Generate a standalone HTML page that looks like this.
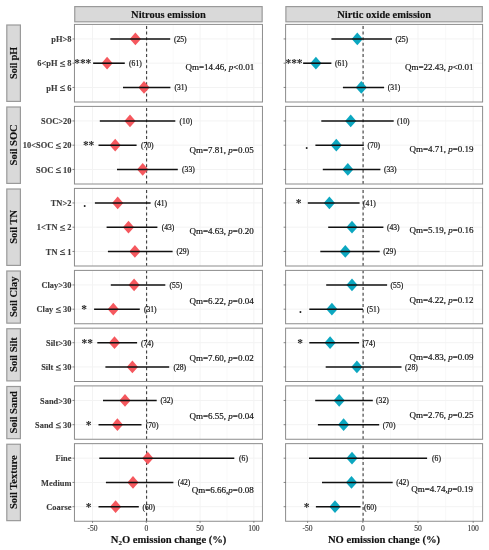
<!DOCTYPE html>
<html><head><meta charset="utf-8"><style>
html,body{margin:0;padding:0;background:#fff;}
svg{display:block;will-change:transform;}
text{font-family:"Liberation Serif",serif;}
.n{font-size:7.6px;fill:#111;stroke:#111;stroke-width:0.18px;}
.st{font-size:11.5px;font-weight:bold;fill:#262626;}
.q{font-size:9px;fill:#111;stroke:#111;stroke-width:0.18px;}
.yl{font-size:8.4px;font-weight:bold;fill:#3a3a3a;stroke:#3a3a3a;stroke-width:0.12px;}
.xl{font-size:7.6px;fill:#333;stroke:#333;stroke-width:0.12px;}
.sh{font-size:10.5px;font-weight:bold;fill:#111;stroke:#111;stroke-width:0.12px;}
.at{font-size:10.6px;font-weight:bold;fill:#111;stroke:#111;stroke-width:0.15px;}
</style></head><body>
<svg width="489" height="550" viewBox="0 0 489 550">
<rect x="0" y="0" width="489" height="550" fill="#fff"/>
<rect x="74.75" y="6.6" width="187.40" height="15.2" fill="#D9D9D9" stroke="#9A9A9A" stroke-width="1.2"/>
<text x="168.45" y="17.9" class="sh" text-anchor="middle">Nitrous emission</text>
<rect x="285.90" y="6.6" width="196.40" height="15.2" fill="#D9D9D9" stroke="#9A9A9A" stroke-width="1.2"/>
<text x="384.10" y="17.9" class="sh" text-anchor="middle">Nirtic oxide emission</text>
<rect x="6.8" y="25.00" width="13.6" height="76.40" fill="#D9D9D9" stroke="#9A9A9A" stroke-width="1.2"/>
<text transform="translate(16.9 62.90) rotate(-90)" class="sh" text-anchor="middle" style="font-size:10px">Soil pH</text>
<rect x="6.8" y="107.00" width="13.6" height="76.40" fill="#D9D9D9" stroke="#9A9A9A" stroke-width="1.2"/>
<text transform="translate(16.9 144.90) rotate(-90)" class="sh" text-anchor="middle">Soil SOC</text>
<rect x="6.8" y="189.00" width="13.6" height="76.40" fill="#D9D9D9" stroke="#9A9A9A" stroke-width="1.2"/>
<text transform="translate(16.9 226.90) rotate(-90)" class="sh" text-anchor="middle">Soil TN</text>
<rect x="6.8" y="271.00" width="13.6" height="52.15" fill="#D9D9D9" stroke="#9A9A9A" stroke-width="1.2"/>
<text transform="translate(16.9 296.78) rotate(-90)" class="sh" text-anchor="middle">Soil Clay</text>
<rect x="6.8" y="328.75" width="13.6" height="52.15" fill="#D9D9D9" stroke="#9A9A9A" stroke-width="1.2"/>
<text transform="translate(16.9 354.53) rotate(-90)" class="sh" text-anchor="middle">Soil Silt</text>
<rect x="6.8" y="386.50" width="13.6" height="52.15" fill="#D9D9D9" stroke="#9A9A9A" stroke-width="1.2"/>
<text transform="translate(16.9 412.28) rotate(-90)" class="sh" text-anchor="middle">Soil Sand</text>
<rect x="6.8" y="444.25" width="13.6" height="76.40" fill="#D9D9D9" stroke="#9A9A9A" stroke-width="1.2"/>
<text transform="translate(16.9 482.15) rotate(-90)" class="sh" text-anchor="middle">Soil Texture</text>
<rect x="74.95" y="24.90" width="187.00" height="76.60" fill="#fff"/>
<line x1="119.41" y1="24.40" x2="119.41" y2="102.00" stroke="#F3F3F3" stroke-width="0.5"/>
<line x1="173.19" y1="24.40" x2="173.19" y2="102.00" stroke="#F3F3F3" stroke-width="0.5"/>
<line x1="226.96" y1="24.40" x2="226.96" y2="102.00" stroke="#F3F3F3" stroke-width="0.5"/>
<line x1="92.53" y1="24.40" x2="92.53" y2="102.00" stroke="#F3F3F3" stroke-width="1"/>
<line x1="146.30" y1="24.40" x2="146.30" y2="102.00" stroke="#F3F3F3" stroke-width="1"/>
<line x1="200.07" y1="24.40" x2="200.07" y2="102.00" stroke="#F3F3F3" stroke-width="1"/>
<line x1="253.85" y1="24.40" x2="253.85" y2="102.00" stroke="#F3F3F3" stroke-width="1"/>
<line x1="74.45" y1="38.95" x2="262.45" y2="38.95" stroke="#F3F3F3" stroke-width="1"/>
<line x1="74.45" y1="63.20" x2="262.45" y2="63.20" stroke="#F3F3F3" stroke-width="1"/>
<line x1="74.45" y1="87.45" x2="262.45" y2="87.45" stroke="#F3F3F3" stroke-width="1"/>
<line x1="146.60" y1="102.00" x2="146.60" y2="24.40" stroke="#3c3c3c" stroke-width="1.1" stroke-dasharray="3,2.62"/>
<polygon points="129.80,38.95 135.40,32.55 141.00,38.95 135.40,45.35" fill="#F5585E"/>
<line x1="110.30" y1="38.95" x2="170.20" y2="38.95" stroke="#111" stroke-width="1.55"/>
<text x="174.00" y="41.85" class="n">(25)</text>
<polygon points="101.50,63.20 107.10,56.80 112.70,63.20 107.10,69.60" fill="#F5585E"/>
<line x1="93.10" y1="63.20" x2="124.80" y2="63.20" stroke="#111" stroke-width="1.55"/>
<text x="129.10" y="66.10" class="n">(61)</text>
<text x="77.20" y="67.30" class="st" text-anchor="middle">*</text>
<text x="82.80" y="67.30" class="st" text-anchor="middle">*</text>
<text x="88.30" y="67.30" class="st" text-anchor="middle">*</text>
<polygon points="138.40,87.45 144.00,81.05 149.60,87.45 144.00,93.85" fill="#F5585E"/>
<line x1="123.00" y1="87.45" x2="170.40" y2="87.45" stroke="#111" stroke-width="1.55"/>
<text x="174.50" y="90.35" class="n">(31)</text>
<rect x="74.45" y="24.40" width="188.00" height="77.60" fill="none" stroke="#8C8C8C" stroke-width="1"/>
<line x1="72.45" y1="38.95" x2="74.45" y2="38.95" stroke="#555" stroke-width="0.7"/>
<line x1="72.45" y1="63.20" x2="74.45" y2="63.20" stroke="#555" stroke-width="0.7"/>
<line x1="72.45" y1="87.45" x2="74.45" y2="87.45" stroke="#555" stroke-width="0.7"/>
<text x="254.20" y="69.80" class="q" text-anchor="end">Qm=14.46, <tspan font-style="italic">p</tspan>&lt;0.01</text>
<text transform="translate(71.40 42.15) scale(1 0.9)" class="yl" text-anchor="end">pH&gt;8</text>
<text transform="translate(57.50 66.40) scale(1 0.9)" class="yl" text-anchor="end">6&lt;pH</text>
<text transform="translate(67.20 66.40) scale(1 0.9)" class="yl">8</text>
<path d="M64.90 61.30 L60.30 63.20 L64.90 65.00 M60.00 66.30 L65.20 66.30" fill="none" stroke="#3a3a3a" stroke-width="0.95"/>
<text transform="translate(57.50 90.65) scale(1 0.9)" class="yl" text-anchor="end">pH</text>
<text transform="translate(67.20 90.65) scale(1 0.9)" class="yl">6</text>
<path d="M64.90 85.55 L60.30 87.45 L64.90 89.25 M60.00 90.55 L65.20 90.55" fill="none" stroke="#3a3a3a" stroke-width="0.95"/>
<rect x="74.95" y="106.90" width="187.00" height="76.60" fill="#fff"/>
<line x1="119.41" y1="106.40" x2="119.41" y2="184.00" stroke="#F3F3F3" stroke-width="0.5"/>
<line x1="173.19" y1="106.40" x2="173.19" y2="184.00" stroke="#F3F3F3" stroke-width="0.5"/>
<line x1="226.96" y1="106.40" x2="226.96" y2="184.00" stroke="#F3F3F3" stroke-width="0.5"/>
<line x1="92.53" y1="106.40" x2="92.53" y2="184.00" stroke="#F3F3F3" stroke-width="1"/>
<line x1="146.30" y1="106.40" x2="146.30" y2="184.00" stroke="#F3F3F3" stroke-width="1"/>
<line x1="200.07" y1="106.40" x2="200.07" y2="184.00" stroke="#F3F3F3" stroke-width="1"/>
<line x1="253.85" y1="106.40" x2="253.85" y2="184.00" stroke="#F3F3F3" stroke-width="1"/>
<line x1="74.45" y1="120.95" x2="262.45" y2="120.95" stroke="#F3F3F3" stroke-width="1"/>
<line x1="74.45" y1="145.20" x2="262.45" y2="145.20" stroke="#F3F3F3" stroke-width="1"/>
<line x1="74.45" y1="169.45" x2="262.45" y2="169.45" stroke="#F3F3F3" stroke-width="1"/>
<line x1="146.60" y1="184.00" x2="146.60" y2="106.40" stroke="#3c3c3c" stroke-width="1.1" stroke-dasharray="3,2.62"/>
<polygon points="124.40,120.95 130.00,114.55 135.60,120.95 130.00,127.35" fill="#F5585E"/>
<line x1="99.80" y1="120.95" x2="175.30" y2="120.95" stroke="#111" stroke-width="1.55"/>
<text x="179.60" y="123.85" class="n">(10)</text>
<polygon points="109.60,145.20 115.20,138.80 120.80,145.20 115.20,151.60" fill="#F5585E"/>
<line x1="98.50" y1="145.20" x2="136.60" y2="145.20" stroke="#111" stroke-width="1.55"/>
<text x="140.90" y="148.10" class="n">(70)</text>
<text x="85.90" y="149.30" class="st" text-anchor="middle">*</text>
<text x="91.40" y="149.30" class="st" text-anchor="middle">*</text>
<polygon points="137.10,169.45 142.70,163.05 148.30,169.45 142.70,175.85" fill="#F5585E"/>
<line x1="117.00" y1="169.45" x2="177.80" y2="169.45" stroke="#111" stroke-width="1.55"/>
<text x="182.10" y="172.35" class="n">(33)</text>
<rect x="74.45" y="106.40" width="188.00" height="77.60" fill="none" stroke="#8C8C8C" stroke-width="1"/>
<line x1="72.45" y1="120.95" x2="74.45" y2="120.95" stroke="#555" stroke-width="0.7"/>
<line x1="72.45" y1="145.20" x2="74.45" y2="145.20" stroke="#555" stroke-width="0.7"/>
<line x1="72.45" y1="169.45" x2="74.45" y2="169.45" stroke="#555" stroke-width="0.7"/>
<text x="253.70" y="152.60" class="q" text-anchor="end">Qm=7.81, <tspan font-style="italic">p</tspan>=0.05</text>
<text transform="translate(71.40 124.15) scale(1 0.9)" class="yl" text-anchor="end">SOC&gt;20</text>
<text transform="translate(53.30 148.40) scale(1 0.9)" class="yl" text-anchor="end">10&lt;SOC</text>
<text transform="translate(63.00 148.40) scale(1 0.9)" class="yl">20</text>
<path d="M60.70 143.30 L56.10 145.20 L60.70 147.00 M55.80 148.30 L61.00 148.30" fill="none" stroke="#3a3a3a" stroke-width="0.95"/>
<text transform="translate(53.30 172.65) scale(1 0.9)" class="yl" text-anchor="end">SOC</text>
<text transform="translate(63.00 172.65) scale(1 0.9)" class="yl">10</text>
<path d="M60.70 167.55 L56.10 169.45 L60.70 171.25 M55.80 172.55 L61.00 172.55" fill="none" stroke="#3a3a3a" stroke-width="0.95"/>
<rect x="74.95" y="188.90" width="187.00" height="76.60" fill="#fff"/>
<line x1="119.41" y1="188.40" x2="119.41" y2="266.00" stroke="#F3F3F3" stroke-width="0.5"/>
<line x1="173.19" y1="188.40" x2="173.19" y2="266.00" stroke="#F3F3F3" stroke-width="0.5"/>
<line x1="226.96" y1="188.40" x2="226.96" y2="266.00" stroke="#F3F3F3" stroke-width="0.5"/>
<line x1="92.53" y1="188.40" x2="92.53" y2="266.00" stroke="#F3F3F3" stroke-width="1"/>
<line x1="146.30" y1="188.40" x2="146.30" y2="266.00" stroke="#F3F3F3" stroke-width="1"/>
<line x1="200.07" y1="188.40" x2="200.07" y2="266.00" stroke="#F3F3F3" stroke-width="1"/>
<line x1="253.85" y1="188.40" x2="253.85" y2="266.00" stroke="#F3F3F3" stroke-width="1"/>
<line x1="74.45" y1="202.95" x2="262.45" y2="202.95" stroke="#F3F3F3" stroke-width="1"/>
<line x1="74.45" y1="227.20" x2="262.45" y2="227.20" stroke="#F3F3F3" stroke-width="1"/>
<line x1="74.45" y1="251.45" x2="262.45" y2="251.45" stroke="#F3F3F3" stroke-width="1"/>
<line x1="146.60" y1="266.00" x2="146.60" y2="188.40" stroke="#3c3c3c" stroke-width="1.1" stroke-dasharray="3,2.62"/>
<polygon points="112.10,202.95 117.70,196.55 123.30,202.95 117.70,209.35" fill="#F5585E"/>
<line x1="94.90" y1="202.95" x2="150.60" y2="202.95" stroke="#111" stroke-width="1.55"/>
<text x="154.40" y="205.85" class="n">(41)</text>
<text x="84.80" y="207.05" class="st" text-anchor="middle">.</text>
<polygon points="122.90,227.20 128.50,220.80 134.10,227.20 128.50,233.60" fill="#F5585E"/>
<line x1="106.60" y1="227.20" x2="157.40" y2="227.20" stroke="#111" stroke-width="1.55"/>
<text x="161.70" y="230.10" class="n">(43)</text>
<polygon points="129.30,251.45 134.90,245.05 140.50,251.45 134.90,257.85" fill="#F5585E"/>
<line x1="107.90" y1="251.45" x2="172.60" y2="251.45" stroke="#111" stroke-width="1.55"/>
<text x="176.40" y="254.35" class="n">(29)</text>
<rect x="74.45" y="188.40" width="188.00" height="77.60" fill="none" stroke="#8C8C8C" stroke-width="1"/>
<line x1="72.45" y1="202.95" x2="74.45" y2="202.95" stroke="#555" stroke-width="0.7"/>
<line x1="72.45" y1="227.20" x2="74.45" y2="227.20" stroke="#555" stroke-width="0.7"/>
<line x1="72.45" y1="251.45" x2="74.45" y2="251.45" stroke="#555" stroke-width="0.7"/>
<text x="253.70" y="233.80" class="q" text-anchor="end">Qm=4.63, <tspan font-style="italic">p</tspan>=0.20</text>
<text transform="translate(71.40 206.15) scale(1 0.9)" class="yl" text-anchor="end">TN&gt;2</text>
<text transform="translate(57.50 230.40) scale(1 0.9)" class="yl" text-anchor="end">1&lt;TN</text>
<text transform="translate(67.20 230.40) scale(1 0.9)" class="yl">2</text>
<path d="M64.90 225.30 L60.30 227.20 L64.90 229.00 M60.00 230.30 L65.20 230.30" fill="none" stroke="#3a3a3a" stroke-width="0.95"/>
<text transform="translate(57.50 254.65) scale(1 0.9)" class="yl" text-anchor="end">TN</text>
<text transform="translate(67.20 254.65) scale(1 0.9)" class="yl">1</text>
<path d="M64.90 249.55 L60.30 251.45 L64.90 253.25 M60.00 254.55 L65.20 254.55" fill="none" stroke="#3a3a3a" stroke-width="0.95"/>
<rect x="74.95" y="270.90" width="187.00" height="52.35" fill="#fff"/>
<line x1="119.41" y1="270.40" x2="119.41" y2="323.75" stroke="#F3F3F3" stroke-width="0.5"/>
<line x1="173.19" y1="270.40" x2="173.19" y2="323.75" stroke="#F3F3F3" stroke-width="0.5"/>
<line x1="226.96" y1="270.40" x2="226.96" y2="323.75" stroke="#F3F3F3" stroke-width="0.5"/>
<line x1="92.53" y1="270.40" x2="92.53" y2="323.75" stroke="#F3F3F3" stroke-width="1"/>
<line x1="146.30" y1="270.40" x2="146.30" y2="323.75" stroke="#F3F3F3" stroke-width="1"/>
<line x1="200.07" y1="270.40" x2="200.07" y2="323.75" stroke="#F3F3F3" stroke-width="1"/>
<line x1="253.85" y1="270.40" x2="253.85" y2="323.75" stroke="#F3F3F3" stroke-width="1"/>
<line x1="74.45" y1="284.95" x2="262.45" y2="284.95" stroke="#F3F3F3" stroke-width="1"/>
<line x1="74.45" y1="309.20" x2="262.45" y2="309.20" stroke="#F3F3F3" stroke-width="1"/>
<line x1="146.60" y1="323.75" x2="146.60" y2="270.40" stroke="#3c3c3c" stroke-width="1.1" stroke-dasharray="3,2.62"/>
<polygon points="128.50,284.95 134.10,278.55 139.70,284.95 134.10,291.35" fill="#F5585E"/>
<line x1="110.80" y1="284.95" x2="165.30" y2="284.95" stroke="#111" stroke-width="1.55"/>
<text x="169.60" y="287.85" class="n">(55)</text>
<polygon points="107.70,309.20 113.30,302.80 118.90,309.20 113.30,315.60" fill="#F5585E"/>
<line x1="94.10" y1="309.20" x2="139.80" y2="309.20" stroke="#111" stroke-width="1.55"/>
<text x="144.00" y="312.10" class="n">(31)</text>
<text x="84.10" y="313.30" class="st" text-anchor="middle">*</text>
<rect x="74.45" y="270.40" width="188.00" height="53.35" fill="none" stroke="#8C8C8C" stroke-width="1"/>
<line x1="72.45" y1="284.95" x2="74.45" y2="284.95" stroke="#555" stroke-width="0.7"/>
<line x1="72.45" y1="309.20" x2="74.45" y2="309.20" stroke="#555" stroke-width="0.7"/>
<text x="253.70" y="303.80" class="q" text-anchor="end">Qm=6.22, <tspan font-style="italic">p</tspan>=0.04</text>
<text transform="translate(71.40 288.15) scale(1 0.9)" class="yl" text-anchor="end">Clay&gt;30</text>
<text transform="translate(53.30 312.40) scale(1 0.9)" class="yl" text-anchor="end">Clay</text>
<text transform="translate(63.00 312.40) scale(1 0.9)" class="yl">30</text>
<path d="M60.70 307.30 L56.10 309.20 L60.70 311.00 M55.80 312.30 L61.00 312.30" fill="none" stroke="#3a3a3a" stroke-width="0.95"/>
<rect x="74.95" y="328.65" width="187.00" height="52.35" fill="#fff"/>
<line x1="119.41" y1="328.15" x2="119.41" y2="381.50" stroke="#F3F3F3" stroke-width="0.5"/>
<line x1="173.19" y1="328.15" x2="173.19" y2="381.50" stroke="#F3F3F3" stroke-width="0.5"/>
<line x1="226.96" y1="328.15" x2="226.96" y2="381.50" stroke="#F3F3F3" stroke-width="0.5"/>
<line x1="92.53" y1="328.15" x2="92.53" y2="381.50" stroke="#F3F3F3" stroke-width="1"/>
<line x1="146.30" y1="328.15" x2="146.30" y2="381.50" stroke="#F3F3F3" stroke-width="1"/>
<line x1="200.07" y1="328.15" x2="200.07" y2="381.50" stroke="#F3F3F3" stroke-width="1"/>
<line x1="253.85" y1="328.15" x2="253.85" y2="381.50" stroke="#F3F3F3" stroke-width="1"/>
<line x1="74.45" y1="342.70" x2="262.45" y2="342.70" stroke="#F3F3F3" stroke-width="1"/>
<line x1="74.45" y1="366.95" x2="262.45" y2="366.95" stroke="#F3F3F3" stroke-width="1"/>
<line x1="146.60" y1="381.50" x2="146.60" y2="328.15" stroke="#3c3c3c" stroke-width="1.1" stroke-dasharray="3,2.62"/>
<polygon points="108.90,342.70 114.50,336.30 120.10,342.70 114.50,349.10" fill="#F5585E"/>
<line x1="97.30" y1="342.70" x2="137.10" y2="342.70" stroke="#111" stroke-width="1.55"/>
<text x="140.90" y="345.60" class="n">(74)</text>
<text x="84.30" y="346.80" class="st" text-anchor="middle">*</text>
<text x="90.10" y="346.80" class="st" text-anchor="middle">*</text>
<polygon points="126.80,366.95 132.40,360.55 138.00,366.95 132.40,373.35" fill="#F5585E"/>
<line x1="105.40" y1="366.95" x2="169.20" y2="366.95" stroke="#111" stroke-width="1.55"/>
<text x="173.50" y="369.85" class="n">(28)</text>
<rect x="74.45" y="328.15" width="188.00" height="53.35" fill="none" stroke="#8C8C8C" stroke-width="1"/>
<line x1="72.45" y1="342.70" x2="74.45" y2="342.70" stroke="#555" stroke-width="0.7"/>
<line x1="72.45" y1="366.95" x2="74.45" y2="366.95" stroke="#555" stroke-width="0.7"/>
<text x="253.70" y="361.10" class="q" text-anchor="end">Qm=7.60, <tspan font-style="italic">p</tspan>=0.02</text>
<text transform="translate(71.40 345.90) scale(1 0.9)" class="yl" text-anchor="end">Silt&gt;30</text>
<text transform="translate(53.30 370.15) scale(1 0.9)" class="yl" text-anchor="end">Silt</text>
<text transform="translate(63.00 370.15) scale(1 0.9)" class="yl">30</text>
<path d="M60.70 365.05 L56.10 366.95 L60.70 368.75 M55.80 370.05 L61.00 370.05" fill="none" stroke="#3a3a3a" stroke-width="0.95"/>
<rect x="74.95" y="386.40" width="187.00" height="52.35" fill="#fff"/>
<line x1="119.41" y1="385.90" x2="119.41" y2="439.25" stroke="#F3F3F3" stroke-width="0.5"/>
<line x1="173.19" y1="385.90" x2="173.19" y2="439.25" stroke="#F3F3F3" stroke-width="0.5"/>
<line x1="226.96" y1="385.90" x2="226.96" y2="439.25" stroke="#F3F3F3" stroke-width="0.5"/>
<line x1="92.53" y1="385.90" x2="92.53" y2="439.25" stroke="#F3F3F3" stroke-width="1"/>
<line x1="146.30" y1="385.90" x2="146.30" y2="439.25" stroke="#F3F3F3" stroke-width="1"/>
<line x1="200.07" y1="385.90" x2="200.07" y2="439.25" stroke="#F3F3F3" stroke-width="1"/>
<line x1="253.85" y1="385.90" x2="253.85" y2="439.25" stroke="#F3F3F3" stroke-width="1"/>
<line x1="74.45" y1="400.45" x2="262.45" y2="400.45" stroke="#F3F3F3" stroke-width="1"/>
<line x1="74.45" y1="424.70" x2="262.45" y2="424.70" stroke="#F3F3F3" stroke-width="1"/>
<line x1="146.60" y1="439.25" x2="146.60" y2="385.90" stroke="#3c3c3c" stroke-width="1.1" stroke-dasharray="3,2.62"/>
<polygon points="119.40,400.45 125.00,394.05 130.60,400.45 125.00,406.85" fill="#F5585E"/>
<line x1="103.00" y1="400.45" x2="156.70" y2="400.45" stroke="#111" stroke-width="1.55"/>
<text x="160.50" y="403.35" class="n">(32)</text>
<polygon points="111.80,424.70 117.40,418.30 123.00,424.70 117.40,431.10" fill="#F5585E"/>
<line x1="98.50" y1="424.70" x2="141.50" y2="424.70" stroke="#111" stroke-width="1.55"/>
<text x="145.80" y="427.60" class="n">(70)</text>
<text x="88.70" y="428.80" class="st" text-anchor="middle">*</text>
<rect x="74.45" y="385.90" width="188.00" height="53.35" fill="none" stroke="#8C8C8C" stroke-width="1"/>
<line x1="72.45" y1="400.45" x2="74.45" y2="400.45" stroke="#555" stroke-width="0.7"/>
<line x1="72.45" y1="424.70" x2="74.45" y2="424.70" stroke="#555" stroke-width="0.7"/>
<text x="253.70" y="418.80" class="q" text-anchor="end">Qm=6.55, <tspan font-style="italic">p</tspan>=0.04</text>
<text transform="translate(71.40 403.65) scale(1 0.9)" class="yl" text-anchor="end">Sand&gt;30</text>
<text transform="translate(53.30 427.90) scale(1 0.9)" class="yl" text-anchor="end">Sand</text>
<text transform="translate(63.00 427.90) scale(1 0.9)" class="yl">30</text>
<path d="M60.70 422.80 L56.10 424.70 L60.70 426.50 M55.80 427.80 L61.00 427.80" fill="none" stroke="#3a3a3a" stroke-width="0.95"/>
<rect x="74.95" y="444.15" width="187.00" height="76.60" fill="#fff"/>
<line x1="119.41" y1="443.65" x2="119.41" y2="521.25" stroke="#F3F3F3" stroke-width="0.5"/>
<line x1="173.19" y1="443.65" x2="173.19" y2="521.25" stroke="#F3F3F3" stroke-width="0.5"/>
<line x1="226.96" y1="443.65" x2="226.96" y2="521.25" stroke="#F3F3F3" stroke-width="0.5"/>
<line x1="92.53" y1="443.65" x2="92.53" y2="521.25" stroke="#F3F3F3" stroke-width="1"/>
<line x1="146.30" y1="443.65" x2="146.30" y2="521.25" stroke="#F3F3F3" stroke-width="1"/>
<line x1="200.07" y1="443.65" x2="200.07" y2="521.25" stroke="#F3F3F3" stroke-width="1"/>
<line x1="253.85" y1="443.65" x2="253.85" y2="521.25" stroke="#F3F3F3" stroke-width="1"/>
<line x1="74.45" y1="458.20" x2="262.45" y2="458.20" stroke="#F3F3F3" stroke-width="1"/>
<line x1="74.45" y1="482.45" x2="262.45" y2="482.45" stroke="#F3F3F3" stroke-width="1"/>
<line x1="74.45" y1="506.70" x2="262.45" y2="506.70" stroke="#F3F3F3" stroke-width="1"/>
<line x1="146.60" y1="521.25" x2="146.60" y2="443.65" stroke="#3c3c3c" stroke-width="1.1" stroke-dasharray="3,2.62"/>
<polygon points="142.20,458.20 147.80,451.80 153.40,458.20 147.80,464.60" fill="#F5585E"/>
<line x1="99.30" y1="458.20" x2="234.30" y2="458.20" stroke="#111" stroke-width="1.55"/>
<text x="239.10" y="461.10" class="n">(6)</text>
<polygon points="127.40,482.45 133.00,476.05 138.60,482.45 133.00,488.85" fill="#F5585E"/>
<line x1="105.90" y1="482.45" x2="173.40" y2="482.45" stroke="#111" stroke-width="1.55"/>
<text x="177.70" y="485.35" class="n">(42)</text>
<polygon points="110.00,506.70 115.60,500.30 121.20,506.70 115.60,513.10" fill="#F5585E"/>
<line x1="98.50" y1="506.70" x2="138.80" y2="506.70" stroke="#111" stroke-width="1.55"/>
<text x="142.40" y="509.60" class="n">(60)</text>
<text x="88.60" y="510.80" class="st" text-anchor="middle">*</text>
<rect x="74.45" y="443.65" width="188.00" height="77.60" fill="none" stroke="#8C8C8C" stroke-width="1"/>
<line x1="72.45" y1="458.20" x2="74.45" y2="458.20" stroke="#555" stroke-width="0.7"/>
<line x1="72.45" y1="482.45" x2="74.45" y2="482.45" stroke="#555" stroke-width="0.7"/>
<line x1="72.45" y1="506.70" x2="74.45" y2="506.70" stroke="#555" stroke-width="0.7"/>
<text x="253.70" y="493.40" class="q" text-anchor="end">Qm=6.66,<tspan font-style="italic">p</tspan>=0.08</text>
<text transform="translate(71.40 461.40) scale(1 0.9)" class="yl" text-anchor="end">Fine</text>
<text transform="translate(71.40 485.65) scale(1 0.9)" class="yl" text-anchor="end">Medium</text>
<text transform="translate(71.40 509.90) scale(1 0.9)" class="yl" text-anchor="end">Coarse</text>
<line x1="92.53" y1="521.25" x2="92.53" y2="522.85" stroke="#555" stroke-width="0.7"/>
<text x="92.53" y="530.8" class="xl" text-anchor="middle">-50</text>
<line x1="146.30" y1="521.25" x2="146.30" y2="522.85" stroke="#555" stroke-width="0.7"/>
<text x="146.30" y="530.8" class="xl" text-anchor="middle">0</text>
<line x1="200.07" y1="521.25" x2="200.07" y2="522.85" stroke="#555" stroke-width="0.7"/>
<text x="200.07" y="530.8" class="xl" text-anchor="middle">50</text>
<line x1="253.85" y1="521.25" x2="253.85" y2="522.85" stroke="#555" stroke-width="0.7"/>
<text x="253.85" y="530.8" class="xl" text-anchor="middle">100</text>
<rect x="286.10" y="24.90" width="196.00" height="76.60" fill="#fff"/>
<line x1="335.20" y1="24.40" x2="335.20" y2="102.00" stroke="#F3F3F3" stroke-width="0.5"/>
<line x1="390.40" y1="24.40" x2="390.40" y2="102.00" stroke="#F3F3F3" stroke-width="0.5"/>
<line x1="445.60" y1="24.40" x2="445.60" y2="102.00" stroke="#F3F3F3" stroke-width="0.5"/>
<line x1="307.60" y1="24.40" x2="307.60" y2="102.00" stroke="#F3F3F3" stroke-width="1"/>
<line x1="362.80" y1="24.40" x2="362.80" y2="102.00" stroke="#F3F3F3" stroke-width="1"/>
<line x1="418.00" y1="24.40" x2="418.00" y2="102.00" stroke="#F3F3F3" stroke-width="1"/>
<line x1="473.20" y1="24.40" x2="473.20" y2="102.00" stroke="#F3F3F3" stroke-width="1"/>
<line x1="285.60" y1="38.95" x2="482.60" y2="38.95" stroke="#F3F3F3" stroke-width="1"/>
<line x1="285.60" y1="63.20" x2="482.60" y2="63.20" stroke="#F3F3F3" stroke-width="1"/>
<line x1="285.60" y1="87.45" x2="482.60" y2="87.45" stroke="#F3F3F3" stroke-width="1"/>
<line x1="363.10" y1="102.00" x2="363.10" y2="24.40" stroke="#3c3c3c" stroke-width="1.1" stroke-dasharray="3,2.62"/>
<polygon points="351.70,38.95 357.30,32.55 362.90,38.95 357.30,45.35" fill="#0CA7C0"/>
<line x1="331.40" y1="38.95" x2="392.00" y2="38.95" stroke="#111" stroke-width="1.55"/>
<text x="395.50" y="41.85" class="n">(25)</text>
<polygon points="310.30,63.20 315.90,56.80 321.50,63.20 315.90,69.60" fill="#0CA7C0"/>
<line x1="303.10" y1="63.20" x2="331.40" y2="63.20" stroke="#111" stroke-width="1.55"/>
<text x="334.90" y="66.10" class="n">(61)</text>
<text x="288.30" y="67.30" class="st" text-anchor="middle">*</text>
<text x="294.10" y="67.30" class="st" text-anchor="middle">*</text>
<text x="299.60" y="67.30" class="st" text-anchor="middle">*</text>
<polygon points="355.70,87.45 361.30,81.05 366.90,87.45 361.30,93.85" fill="#0CA7C0"/>
<line x1="342.90" y1="87.45" x2="384.10" y2="87.45" stroke="#111" stroke-width="1.55"/>
<text x="387.70" y="90.35" class="n">(31)</text>
<rect x="285.60" y="24.40" width="197.00" height="77.60" fill="none" stroke="#8C8C8C" stroke-width="1"/>
<line x1="283.60" y1="38.95" x2="285.60" y2="38.95" stroke="#555" stroke-width="0.7"/>
<line x1="283.60" y1="63.20" x2="285.60" y2="63.20" stroke="#555" stroke-width="0.7"/>
<line x1="283.60" y1="87.45" x2="285.60" y2="87.45" stroke="#555" stroke-width="0.7"/>
<text x="473.60" y="70.10" class="q" text-anchor="end">Qm=22.43, <tspan font-style="italic">p</tspan>&lt;0.01</text>
<rect x="286.10" y="106.90" width="196.00" height="76.60" fill="#fff"/>
<line x1="335.20" y1="106.40" x2="335.20" y2="184.00" stroke="#F3F3F3" stroke-width="0.5"/>
<line x1="390.40" y1="106.40" x2="390.40" y2="184.00" stroke="#F3F3F3" stroke-width="0.5"/>
<line x1="445.60" y1="106.40" x2="445.60" y2="184.00" stroke="#F3F3F3" stroke-width="0.5"/>
<line x1="307.60" y1="106.40" x2="307.60" y2="184.00" stroke="#F3F3F3" stroke-width="1"/>
<line x1="362.80" y1="106.40" x2="362.80" y2="184.00" stroke="#F3F3F3" stroke-width="1"/>
<line x1="418.00" y1="106.40" x2="418.00" y2="184.00" stroke="#F3F3F3" stroke-width="1"/>
<line x1="473.20" y1="106.40" x2="473.20" y2="184.00" stroke="#F3F3F3" stroke-width="1"/>
<line x1="285.60" y1="120.95" x2="482.60" y2="120.95" stroke="#F3F3F3" stroke-width="1"/>
<line x1="285.60" y1="145.20" x2="482.60" y2="145.20" stroke="#F3F3F3" stroke-width="1"/>
<line x1="285.60" y1="169.45" x2="482.60" y2="169.45" stroke="#F3F3F3" stroke-width="1"/>
<line x1="363.10" y1="184.00" x2="363.10" y2="106.40" stroke="#3c3c3c" stroke-width="1.1" stroke-dasharray="3,2.62"/>
<polygon points="345.10,120.95 350.70,114.55 356.30,120.95 350.70,127.35" fill="#0CA7C0"/>
<line x1="321.30" y1="120.95" x2="393.70" y2="120.95" stroke="#111" stroke-width="1.55"/>
<text x="397.00" y="123.85" class="n">(10)</text>
<polygon points="330.70,145.20 336.30,138.80 341.90,145.20 336.30,151.60" fill="#0CA7C0"/>
<line x1="315.40" y1="145.20" x2="363.80" y2="145.20" stroke="#111" stroke-width="1.55"/>
<text x="367.50" y="148.10" class="n">(70)</text>
<text x="306.60" y="149.30" class="st" text-anchor="middle">.</text>
<polygon points="342.20,169.45 347.80,163.05 353.40,169.45 347.80,175.85" fill="#0CA7C0"/>
<line x1="322.80" y1="169.45" x2="380.40" y2="169.45" stroke="#111" stroke-width="1.55"/>
<text x="384.00" y="172.35" class="n">(33)</text>
<rect x="285.60" y="106.40" width="197.00" height="77.60" fill="none" stroke="#8C8C8C" stroke-width="1"/>
<line x1="283.60" y1="120.95" x2="285.60" y2="120.95" stroke="#555" stroke-width="0.7"/>
<line x1="283.60" y1="145.20" x2="285.60" y2="145.20" stroke="#555" stroke-width="0.7"/>
<line x1="283.60" y1="169.45" x2="285.60" y2="169.45" stroke="#555" stroke-width="0.7"/>
<text x="473.60" y="151.90" class="q" text-anchor="end">Qm=4.71, <tspan font-style="italic">p</tspan>=0.19</text>
<rect x="286.10" y="188.90" width="196.00" height="76.60" fill="#fff"/>
<line x1="335.20" y1="188.40" x2="335.20" y2="266.00" stroke="#F3F3F3" stroke-width="0.5"/>
<line x1="390.40" y1="188.40" x2="390.40" y2="266.00" stroke="#F3F3F3" stroke-width="0.5"/>
<line x1="445.60" y1="188.40" x2="445.60" y2="266.00" stroke="#F3F3F3" stroke-width="0.5"/>
<line x1="307.60" y1="188.40" x2="307.60" y2="266.00" stroke="#F3F3F3" stroke-width="1"/>
<line x1="362.80" y1="188.40" x2="362.80" y2="266.00" stroke="#F3F3F3" stroke-width="1"/>
<line x1="418.00" y1="188.40" x2="418.00" y2="266.00" stroke="#F3F3F3" stroke-width="1"/>
<line x1="473.20" y1="188.40" x2="473.20" y2="266.00" stroke="#F3F3F3" stroke-width="1"/>
<line x1="285.60" y1="202.95" x2="482.60" y2="202.95" stroke="#F3F3F3" stroke-width="1"/>
<line x1="285.60" y1="227.20" x2="482.60" y2="227.20" stroke="#F3F3F3" stroke-width="1"/>
<line x1="285.60" y1="251.45" x2="482.60" y2="251.45" stroke="#F3F3F3" stroke-width="1"/>
<line x1="363.10" y1="266.00" x2="363.10" y2="188.40" stroke="#3c3c3c" stroke-width="1.1" stroke-dasharray="3,2.62"/>
<polygon points="323.80,202.95 329.40,196.55 335.00,202.95 329.40,209.35" fill="#0CA7C0"/>
<line x1="307.80" y1="202.95" x2="359.60" y2="202.95" stroke="#111" stroke-width="1.55"/>
<text x="363.10" y="205.85" class="n">(41)</text>
<text x="298.70" y="207.05" class="st" text-anchor="middle">*</text>
<polygon points="346.40,227.20 352.00,220.80 357.60,227.20 352.00,233.60" fill="#0CA7C0"/>
<line x1="328.20" y1="227.20" x2="383.40" y2="227.20" stroke="#111" stroke-width="1.55"/>
<text x="386.90" y="230.10" class="n">(43)</text>
<polygon points="339.70,251.45 345.30,245.05 350.90,251.45 345.30,257.85" fill="#0CA7C0"/>
<line x1="320.30" y1="251.45" x2="379.70" y2="251.45" stroke="#111" stroke-width="1.55"/>
<text x="383.30" y="254.35" class="n">(29)</text>
<rect x="285.60" y="188.40" width="197.00" height="77.60" fill="none" stroke="#8C8C8C" stroke-width="1"/>
<line x1="283.60" y1="202.95" x2="285.60" y2="202.95" stroke="#555" stroke-width="0.7"/>
<line x1="283.60" y1="227.20" x2="285.60" y2="227.20" stroke="#555" stroke-width="0.7"/>
<line x1="283.60" y1="251.45" x2="285.60" y2="251.45" stroke="#555" stroke-width="0.7"/>
<text x="473.60" y="233.40" class="q" text-anchor="end">Qm=5.19, <tspan font-style="italic">p</tspan>=0.16</text>
<rect x="286.10" y="270.90" width="196.00" height="52.35" fill="#fff"/>
<line x1="335.20" y1="270.40" x2="335.20" y2="323.75" stroke="#F3F3F3" stroke-width="0.5"/>
<line x1="390.40" y1="270.40" x2="390.40" y2="323.75" stroke="#F3F3F3" stroke-width="0.5"/>
<line x1="445.60" y1="270.40" x2="445.60" y2="323.75" stroke="#F3F3F3" stroke-width="0.5"/>
<line x1="307.60" y1="270.40" x2="307.60" y2="323.75" stroke="#F3F3F3" stroke-width="1"/>
<line x1="362.80" y1="270.40" x2="362.80" y2="323.75" stroke="#F3F3F3" stroke-width="1"/>
<line x1="418.00" y1="270.40" x2="418.00" y2="323.75" stroke="#F3F3F3" stroke-width="1"/>
<line x1="473.20" y1="270.40" x2="473.20" y2="323.75" stroke="#F3F3F3" stroke-width="1"/>
<line x1="285.60" y1="284.95" x2="482.60" y2="284.95" stroke="#F3F3F3" stroke-width="1"/>
<line x1="285.60" y1="309.20" x2="482.60" y2="309.20" stroke="#F3F3F3" stroke-width="1"/>
<line x1="363.10" y1="323.75" x2="363.10" y2="270.40" stroke="#3c3c3c" stroke-width="1.1" stroke-dasharray="3,2.62"/>
<polygon points="346.40,284.95 352.00,278.55 357.60,284.95 352.00,291.35" fill="#0CA7C0"/>
<line x1="326.20" y1="284.95" x2="387.10" y2="284.95" stroke="#111" stroke-width="1.55"/>
<text x="390.60" y="287.85" class="n">(55)</text>
<polygon points="326.30,309.20 331.90,302.80 337.50,309.20 331.90,315.60" fill="#0CA7C0"/>
<line x1="309.30" y1="309.20" x2="363.00" y2="309.20" stroke="#111" stroke-width="1.55"/>
<text x="366.80" y="312.10" class="n">(51)</text>
<text x="300.40" y="313.30" class="st" text-anchor="middle">.</text>
<rect x="285.60" y="270.40" width="197.00" height="53.35" fill="none" stroke="#8C8C8C" stroke-width="1"/>
<line x1="283.60" y1="284.95" x2="285.60" y2="284.95" stroke="#555" stroke-width="0.7"/>
<line x1="283.60" y1="309.20" x2="285.60" y2="309.20" stroke="#555" stroke-width="0.7"/>
<text x="473.60" y="303.10" class="q" text-anchor="end">Qm=4.22, <tspan font-style="italic">p</tspan>=0.12</text>
<rect x="286.10" y="328.65" width="196.00" height="52.35" fill="#fff"/>
<line x1="335.20" y1="328.15" x2="335.20" y2="381.50" stroke="#F3F3F3" stroke-width="0.5"/>
<line x1="390.40" y1="328.15" x2="390.40" y2="381.50" stroke="#F3F3F3" stroke-width="0.5"/>
<line x1="445.60" y1="328.15" x2="445.60" y2="381.50" stroke="#F3F3F3" stroke-width="0.5"/>
<line x1="307.60" y1="328.15" x2="307.60" y2="381.50" stroke="#F3F3F3" stroke-width="1"/>
<line x1="362.80" y1="328.15" x2="362.80" y2="381.50" stroke="#F3F3F3" stroke-width="1"/>
<line x1="418.00" y1="328.15" x2="418.00" y2="381.50" stroke="#F3F3F3" stroke-width="1"/>
<line x1="473.20" y1="328.15" x2="473.20" y2="381.50" stroke="#F3F3F3" stroke-width="1"/>
<line x1="285.60" y1="342.70" x2="482.60" y2="342.70" stroke="#F3F3F3" stroke-width="1"/>
<line x1="285.60" y1="366.95" x2="482.60" y2="366.95" stroke="#F3F3F3" stroke-width="1"/>
<line x1="363.10" y1="381.50" x2="363.10" y2="328.15" stroke="#3c3c3c" stroke-width="1.1" stroke-dasharray="3,2.62"/>
<polygon points="324.50,342.70 330.10,336.30 335.70,342.70 330.10,349.10" fill="#0CA7C0"/>
<line x1="309.30" y1="342.70" x2="359.10" y2="342.70" stroke="#111" stroke-width="1.55"/>
<text x="362.60" y="345.60" class="n">(74)</text>
<text x="300.00" y="346.80" class="st" text-anchor="middle">*</text>
<polygon points="351.30,366.95 356.90,360.55 362.50,366.95 356.90,373.35" fill="#0CA7C0"/>
<line x1="325.70" y1="366.95" x2="401.50" y2="366.95" stroke="#111" stroke-width="1.55"/>
<text x="405.10" y="369.85" class="n">(28)</text>
<rect x="285.60" y="328.15" width="197.00" height="53.35" fill="none" stroke="#8C8C8C" stroke-width="1"/>
<line x1="283.60" y1="342.70" x2="285.60" y2="342.70" stroke="#555" stroke-width="0.7"/>
<line x1="283.60" y1="366.95" x2="285.60" y2="366.95" stroke="#555" stroke-width="0.7"/>
<text x="473.60" y="360.40" class="q" text-anchor="end">Qm=4.83, <tspan font-style="italic">p</tspan>=0.09</text>
<rect x="286.10" y="386.40" width="196.00" height="52.35" fill="#fff"/>
<line x1="335.20" y1="385.90" x2="335.20" y2="439.25" stroke="#F3F3F3" stroke-width="0.5"/>
<line x1="390.40" y1="385.90" x2="390.40" y2="439.25" stroke="#F3F3F3" stroke-width="0.5"/>
<line x1="445.60" y1="385.90" x2="445.60" y2="439.25" stroke="#F3F3F3" stroke-width="0.5"/>
<line x1="307.60" y1="385.90" x2="307.60" y2="439.25" stroke="#F3F3F3" stroke-width="1"/>
<line x1="362.80" y1="385.90" x2="362.80" y2="439.25" stroke="#F3F3F3" stroke-width="1"/>
<line x1="418.00" y1="385.90" x2="418.00" y2="439.25" stroke="#F3F3F3" stroke-width="1"/>
<line x1="473.20" y1="385.90" x2="473.20" y2="439.25" stroke="#F3F3F3" stroke-width="1"/>
<line x1="285.60" y1="400.45" x2="482.60" y2="400.45" stroke="#F3F3F3" stroke-width="1"/>
<line x1="285.60" y1="424.70" x2="482.60" y2="424.70" stroke="#F3F3F3" stroke-width="1"/>
<line x1="363.10" y1="439.25" x2="363.10" y2="385.90" stroke="#3c3c3c" stroke-width="1.1" stroke-dasharray="3,2.62"/>
<polygon points="333.60,400.45 339.20,394.05 344.80,400.45 339.20,406.85" fill="#0CA7C0"/>
<line x1="315.20" y1="400.45" x2="372.80" y2="400.45" stroke="#111" stroke-width="1.55"/>
<text x="376.10" y="403.35" class="n">(32)</text>
<polygon points="338.00,424.70 343.60,418.30 349.20,424.70 343.60,431.10" fill="#0CA7C0"/>
<line x1="317.90" y1="424.70" x2="379.20" y2="424.70" stroke="#111" stroke-width="1.55"/>
<text x="382.80" y="427.60" class="n">(70)</text>
<rect x="285.60" y="385.90" width="197.00" height="53.35" fill="none" stroke="#8C8C8C" stroke-width="1"/>
<line x1="283.60" y1="400.45" x2="285.60" y2="400.45" stroke="#555" stroke-width="0.7"/>
<line x1="283.60" y1="424.70" x2="285.60" y2="424.70" stroke="#555" stroke-width="0.7"/>
<text x="473.60" y="418.40" class="q" text-anchor="end">Qm=2.76, <tspan font-style="italic">p</tspan>=0.25</text>
<rect x="286.10" y="444.15" width="196.00" height="76.60" fill="#fff"/>
<line x1="335.20" y1="443.65" x2="335.20" y2="521.25" stroke="#F3F3F3" stroke-width="0.5"/>
<line x1="390.40" y1="443.65" x2="390.40" y2="521.25" stroke="#F3F3F3" stroke-width="0.5"/>
<line x1="445.60" y1="443.65" x2="445.60" y2="521.25" stroke="#F3F3F3" stroke-width="0.5"/>
<line x1="307.60" y1="443.65" x2="307.60" y2="521.25" stroke="#F3F3F3" stroke-width="1"/>
<line x1="362.80" y1="443.65" x2="362.80" y2="521.25" stroke="#F3F3F3" stroke-width="1"/>
<line x1="418.00" y1="443.65" x2="418.00" y2="521.25" stroke="#F3F3F3" stroke-width="1"/>
<line x1="473.20" y1="443.65" x2="473.20" y2="521.25" stroke="#F3F3F3" stroke-width="1"/>
<line x1="285.60" y1="458.20" x2="482.60" y2="458.20" stroke="#F3F3F3" stroke-width="1"/>
<line x1="285.60" y1="482.45" x2="482.60" y2="482.45" stroke="#F3F3F3" stroke-width="1"/>
<line x1="285.60" y1="506.70" x2="482.60" y2="506.70" stroke="#F3F3F3" stroke-width="1"/>
<line x1="363.10" y1="521.25" x2="363.10" y2="443.65" stroke="#3c3c3c" stroke-width="1.1" stroke-dasharray="3,2.62"/>
<polygon points="346.40,458.20 352.00,451.80 357.60,458.20 352.00,464.60" fill="#0CA7C0"/>
<line x1="309.00" y1="458.20" x2="427.10" y2="458.20" stroke="#111" stroke-width="1.55"/>
<text x="432.10" y="461.10" class="n">(6)</text>
<polygon points="345.90,482.45 351.50,476.05 357.10,482.45 351.50,488.85" fill="#0CA7C0"/>
<line x1="322.00" y1="482.45" x2="392.70" y2="482.45" stroke="#111" stroke-width="1.55"/>
<text x="396.30" y="485.35" class="n">(42)</text>
<polygon points="329.40,506.70 335.00,500.30 340.60,506.70 335.00,513.10" fill="#0CA7C0"/>
<line x1="315.90" y1="506.70" x2="360.60" y2="506.70" stroke="#111" stroke-width="1.55"/>
<text x="363.90" y="509.60" class="n">(60)</text>
<text x="306.60" y="510.80" class="st" text-anchor="middle">*</text>
<rect x="285.60" y="443.65" width="197.00" height="77.60" fill="none" stroke="#8C8C8C" stroke-width="1"/>
<line x1="283.60" y1="458.20" x2="285.60" y2="458.20" stroke="#555" stroke-width="0.7"/>
<line x1="283.60" y1="482.45" x2="285.60" y2="482.45" stroke="#555" stroke-width="0.7"/>
<line x1="283.60" y1="506.70" x2="285.60" y2="506.70" stroke="#555" stroke-width="0.7"/>
<text x="473.10" y="492.30" class="q" text-anchor="end">Qm=4.74,<tspan font-style="italic">p</tspan>=0.19</text>
<line x1="307.60" y1="521.25" x2="307.60" y2="522.85" stroke="#555" stroke-width="0.7"/>
<text x="307.60" y="530.8" class="xl" text-anchor="middle">-50</text>
<line x1="362.80" y1="521.25" x2="362.80" y2="522.85" stroke="#555" stroke-width="0.7"/>
<text x="362.80" y="530.8" class="xl" text-anchor="middle">0</text>
<line x1="418.00" y1="521.25" x2="418.00" y2="522.85" stroke="#555" stroke-width="0.7"/>
<text x="418.00" y="530.8" class="xl" text-anchor="middle">50</text>
<line x1="473.20" y1="521.25" x2="473.20" y2="522.85" stroke="#555" stroke-width="0.7"/>
<text x="473.20" y="530.8" class="xl" text-anchor="middle">100</text>
<text x="168.6" y="542.9" class="at" text-anchor="middle">N<tspan dy="1.6" font-size="7">2</tspan><tspan dy="-1.6">O emission change (%)</tspan></text>
<text x="384.0" y="542.9" class="at" text-anchor="middle">NO emission change (%)</text>
</svg>
</body></html>
